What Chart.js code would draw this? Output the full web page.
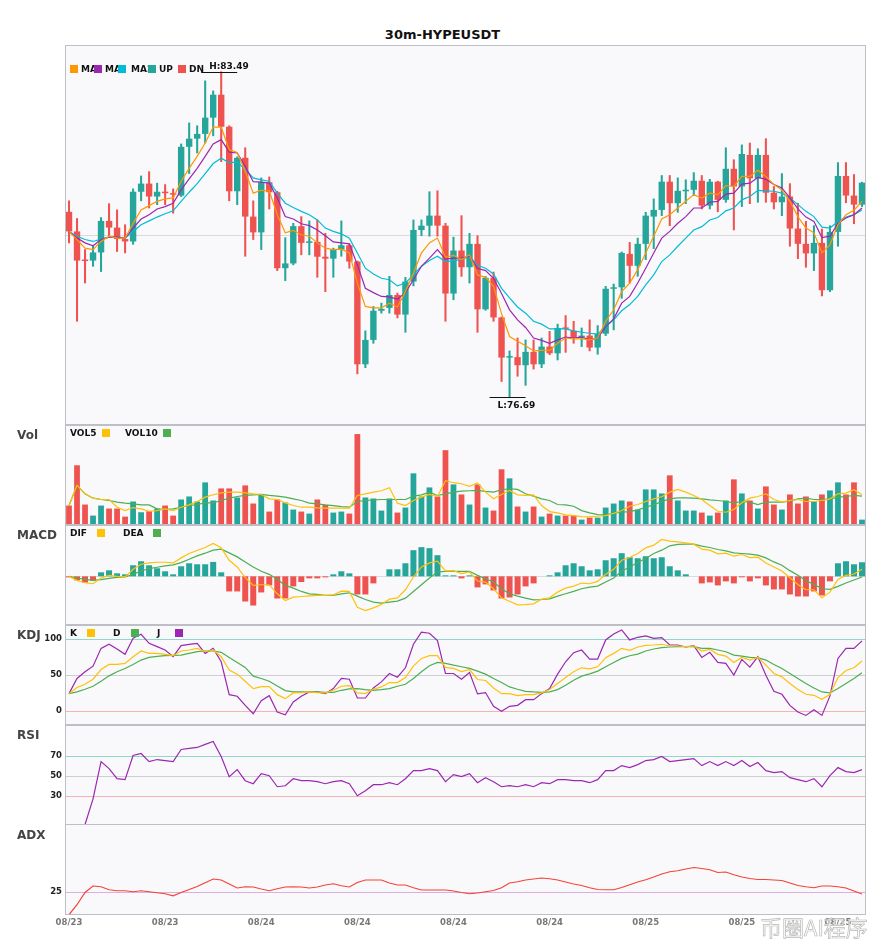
<!DOCTYPE html>
<html>
<head>
<meta charset="utf-8">
<title>30m-HYPEUSDT</title>
<script src="https://cdn.jsdelivr.net/npm/chart.js@4.4.1/dist/chart.umd.min.js"></script>
<style>
  body { margin: 0; background: #fff; font-family: "DejaVu Sans", sans-serif; }
  #page { position: relative; width: 885px; height: 950px; overflow: hidden; }
  canvas { position: absolute; left: 0; }
  .lbl { position: absolute; left: 17px; font-weight: bold; font-size: 12px; line-height: 14px; color: #444; }
  #title { position: absolute; top: 27px; left: 0; width: 885px; text-align: center;
           font-weight: bold; font-size: 13px; line-height: 16px; color: #111; }
  #wm { position: absolute; left: 760px; top: 910px; font-family: "Noto Sans CJK SC", sans-serif;
        font-size: 22px; color: rgba(255,255,255,0.7); -webkit-text-stroke: 0.7px #b8b8b8; }
</style>
</head>
<body>
<div id="page">
  <div id="title">30m-HYPEUSDT</div>
  <canvas id="cMain" width="885" height="380" style="top:45px"></canvas>
  <canvas id="cVol"  width="885" height="100" style="top:425px"></canvas>
  <canvas id="cMacd" width="885" height="100" style="top:525px"></canvas>
  <canvas id="cKdj"  width="885" height="100" style="top:625px"></canvas>
  <canvas id="cRsi"  width="885" height="100" style="top:725px"></canvas>
  <canvas id="cAdx"  width="885" height="111" style="top:824px"></canvas>
  <div class="lbl" style="top:428px">Vol</div>
  <div class="lbl" style="top:528px">MACD</div>
  <div class="lbl" style="top:628px">KDJ</div>
  <div class="lbl" style="top:728px">RSI</div>
  <div class="lbl" style="top:828px">ADX</div>
  <div id="wm">币圈AI程序</div>
</div>

<script>
/* =========================================
   DATA
========================================= */
const tickLabels = ["08/23", "08/23", "08/24", "08/24", "08/24", "08/24", "08/25", "08/25", "08/25"];
const TICK_EVERY = 12;

// 100 half-hour candles
const times = [];
for (let i = 0; i < 100; i++) times.push(String(i));

const opens = [
  80.56,80.15,79.54,79.54,79.71,80.37,80.23,79.99,79.94,80.98,
  81.15,80.88,80.97,80.94,80.90,81.92,82.09,82.19,82.53,83.01,
  82.34,80.99,81.69,80.46,80.13,81.18,80.97,79.38,79.48,80.26,
  79.91,79.93,79.62,79.58,79.77,79.86,79.52,77.37,77.88,78.49,
  78.55,78.82,78.41,79.10,80.18,80.27,80.48,80.27,78.85,79.75,
  79.40,79.89,78.52,79.18,78.35,77.51,77.52,77.35,77.63,77.37,
  77.74,77.60,78.13,78.07,77.93,77.97,77.72,78.01,78.95,78.98,
  79.68,79.43,79.89,80.46,80.60,81.19,80.74,80.99,81.02,81.21,
  80.69,81.19,80.81,81.46,81.09,81.75,81.26,81.75,80.96,80.76,
  80.88,80.21,79.89,79.69,79.91,78.92,80.14,81.31,80.90,80.71
];
const highs = [
  80.79,80.42,79.77,79.84,80.44,80.73,80.60,80.29,81.04,81.31,
  81.40,81.16,81.13,81.04,81.98,82.42,82.36,83.30,83.09,83.49,
  82.36,81.71,81.90,80.79,81.27,81.29,80.99,80.02,80.32,80.46,
  80.37,80.39,80.11,79.80,80.37,79.89,79.53,78.07,78.58,78.65,
  79.21,78.86,79.19,80.39,80.39,80.98,81.00,80.32,80.03,80.48,
  80.11,80.06,79.21,79.30,78.36,77.65,77.92,77.88,77.88,77.92,
  78.06,78.21,78.39,78.27,78.13,78.30,78.18,79.00,79.05,79.72,
  79.92,80.01,80.55,80.83,81.32,81.32,81.27,81.23,81.38,81.32,
  81.24,81.20,81.90,81.65,81.96,82.00,81.88,82.09,81.09,81.36,
  81.15,80.74,80.36,80.27,80.20,80.27,81.59,81.59,81.34,81.18
];
const lows = [
  79.91,78.27,79.07,79.42,79.31,80.05,79.73,79.70,79.88,80.79,
  80.64,80.71,80.71,80.53,80.88,81.36,81.79,82.00,82.15,81.61,
  80.79,80.71,79.63,79.98,79.77,80.62,79.33,79.12,79.45,79.66,
  79.66,79.19,78.89,79.19,79.63,79.38,77.17,77.30,77.81,78.44,
  78.44,78.34,78.04,79.01,80.06,80.05,80.05,78.27,78.72,79.21,
  79.07,78.04,78.50,78.27,77.01,76.69,77.12,76.93,77.27,77.30,
  77.57,77.46,77.62,77.81,77.74,77.65,77.58,77.97,78.09,78.75,
  79.07,79.21,79.56,79.79,80.48,80.27,80.55,80.73,80.90,80.62,
  80.62,80.56,80.76,80.18,80.67,80.73,80.76,80.76,80.62,80.48,
  79.84,79.58,79.40,79.33,78.80,78.89,79.84,80.75,80.31,80.67
];
const closes = [
  80.15,79.54,79.53,79.71,80.37,80.23,79.99,79.94,80.98,81.15,
  80.88,80.98,80.95,80.92,81.92,82.09,82.19,82.53,83.01,82.34,
  80.99,81.69,80.46,80.13,81.18,80.97,79.38,79.48,80.26,79.91,
  79.93,79.62,79.58,79.77,79.86,79.52,77.37,77.88,78.49,78.53,
  78.82,78.41,79.10,80.18,80.27,80.48,80.27,78.85,79.75,79.40,
  79.89,78.52,79.18,78.35,77.51,77.52,77.35,77.63,77.37,77.74,
  77.60,78.13,78.11,77.93,77.97,77.72,78.01,78.95,78.98,79.70,
  79.43,79.89,80.48,80.60,81.19,80.74,81.00,81.00,81.21,80.69,
  81.19,80.81,81.46,81.09,81.77,81.26,81.75,80.96,80.76,80.88,
  80.21,79.89,79.69,79.91,78.92,80.14,81.31,80.90,80.71,81.17
];
const ma5 = [
  80.15,79.98,79.80,79.77,79.94,80.05,80.01,80.01,80.32,80.60,
  80.69,80.78,80.83,80.85,81.20,81.47,81.72,82.00,82.33,82.33,
  81.86,81.80,81.41,80.95,81.01,81.00,80.50,80.12,80.17,80.08,
  80.05,79.91,79.80,79.77,79.78,79.70,79.07,78.58,78.55,78.55,
  78.65,78.57,78.89,79.28,79.70,79.91,80.01,79.61,79.65,79.56,
  79.66,79.24,79.19,79.00,78.43,77.95,77.85,77.76,77.65,77.66,
  77.66,77.81,77.92,77.90,77.90,77.88,77.92,78.27,78.51,78.89,
  79.07,79.35,79.70,80.05,80.41,80.50,80.64,80.78,80.92,80.85,
  80.95,80.92,81.11,81.09,81.30,81.30,81.43,81.30,81.13,81.02,
  80.78,80.46,80.22,80.12,79.70,79.87,80.29,80.50,80.59,80.78
];
const ma10 = [
  80.15,80.01,79.91,79.85,79.98,80.03,80.03,80.01,80.22,80.41,
  80.50,80.62,80.67,80.74,81.02,81.25,81.47,81.72,81.98,82.07,
  81.81,81.79,81.51,81.19,81.18,81.16,80.85,80.46,80.41,80.31,
  80.27,80.18,80.06,79.93,79.91,79.89,79.45,78.96,78.87,78.79,
  78.78,78.73,78.87,79.14,79.42,79.59,79.77,79.57,79.59,79.59,
  79.63,79.38,79.33,79.17,78.85,78.51,78.30,78.14,77.92,77.87,
  77.81,77.88,77.94,77.92,77.94,77.88,77.92,78.16,78.32,78.65,
  78.79,79.07,79.38,79.70,80.01,80.15,80.32,80.46,80.64,80.64,
  80.76,80.78,80.93,80.95,81.14,81.16,81.28,81.24,81.13,81.06,
  80.85,80.62,80.45,80.36,80.02,80.05,80.32,80.43,80.50,80.64
];
const ma20 = [
  80.15,80.05,79.98,79.94,79.99,80.03,80.03,80.01,80.15,80.29,
  80.37,80.45,80.52,80.58,80.78,80.97,81.15,81.36,81.57,81.68,
  81.59,81.60,81.45,81.27,81.23,81.20,80.95,80.74,80.65,80.57,
  80.50,80.39,80.22,80.15,80.10,80.01,79.70,79.38,79.26,79.17,
  79.14,79.01,79.07,79.24,79.42,79.54,79.63,79.52,79.54,79.56,
  79.63,79.44,79.38,79.26,78.96,78.76,78.57,78.44,78.27,78.21,
  78.11,78.11,78.11,78.07,78.04,78.02,78.00,78.16,78.30,78.49,
  78.62,78.79,79.03,79.24,79.52,79.66,79.84,80.01,80.18,80.25,
  80.39,80.44,80.58,80.64,80.81,80.88,81.01,81.00,80.99,80.95,
  80.85,80.71,80.57,80.46,80.24,80.22,80.36,80.45,80.50,80.60
];
const REF_PRICE = 80.08;

const volumes = [
  58,178,61,28,58,49,49,25,70,38,
  41,49,58,28,76,85,70,127,73,109,
  109,82,118,64,91,40,76,67,46,40,
  34,76,60,37,40,34,271,82,79,43,
  79,37,52,154,85,112,85,223,121,91,
  61,121,52,43,166,139,55,40,55,25,
  34,28,28,28,16,22,22,52,64,73,
  70,46,106,106,94,148,73,43,43,37,
  28,37,73,136,94,73,49,115,61,46,
  91,64,85,70,91,103,127,91,127,16
];
const vol5 = [
  58,118,93,80,76,76,53,43,52,48,
  41,43,48,43,53,60,70,83,90,96,
  98,98,96,93,91,78,76,66,58,53,
  53,51,50,50,50,50,88,93,98,102,
  111,65,58,73,83,91,85,132,126,123,
  115,125,98,78,91,103,90,88,90,58,
  40,36,30,28,25,24,26,28,35,43,
  56,61,70,78,84,98,106,98,88,76,
  58,41,38,46,66,80,85,93,76,68,
  73,76,70,70,73,78,93,95,105,90
];
const vol10 = [
  58,118,93,80,76,73,68,65,63,60,
  60,48,46,48,53,58,61,66,66,73,
  80,85,88,90,91,88,86,83,78,73,
  65,63,60,58,55,53,70,73,75,76,
  76,76,76,86,90,98,88,93,98,101,
  102,103,100,98,105,108,106,93,86,78,
  73,61,60,56,43,36,31,30,35,38,
  40,45,53,60,70,78,81,81,80,78,
  75,73,70,66,70,68,61,68,68,68,
  71,78,80,76,76,78,83,85,88,86
];

const macdHist = [
  -0.03,-0.12,-0.19,-0.12,0.12,0.18,0.09,0.06,0.33,0.45,
  0.33,0.24,0.15,0.06,0.30,0.39,0.36,0.36,0.43,0.12,
  -0.45,-0.45,-0.75,-0.87,-0.48,-0.27,-0.66,-0.66,-0.30,-0.17,
  -0.06,-0.06,-0.03,0.06,0.15,0.09,-0.54,-0.54,-0.21,0.00,
  0.21,0.21,0.39,0.78,0.87,0.84,0.63,0.03,0.03,-0.06,
  0.03,-0.33,-0.24,-0.42,-0.66,-0.63,-0.54,-0.30,-0.21,0.00,
  0.03,0.12,0.33,0.39,0.30,0.18,0.21,0.48,0.54,0.69,
  0.57,0.54,0.60,0.54,0.57,0.30,0.18,0.06,0.00,-0.21,
  -0.18,-0.27,-0.15,-0.21,-0.03,-0.15,-0.06,-0.27,-0.39,-0.39,
  -0.54,-0.60,-0.60,-0.45,-0.57,-0.15,0.39,0.45,0.36,0.42
];
const dif = [
  0.00,-0.12,-0.19,-0.22,-0.05,0.03,0.00,-0.02,0.21,0.36,
  0.40,0.42,0.42,0.40,0.55,0.68,0.77,0.86,0.98,0.85,
  0.48,0.28,-0.04,-0.27,-0.25,-0.25,-0.52,-0.72,-0.62,-0.60,
  -0.58,-0.57,-0.57,-0.55,-0.44,-0.45,-0.92,-1.02,-0.94,-0.84,
  -0.68,-0.64,-0.40,-0.02,0.28,0.40,0.45,0.16,0.17,0.08,
  0.13,-0.14,-0.17,-0.37,-0.64,-0.74,-0.85,-0.84,-0.82,-0.68,
  -0.64,-0.47,-0.35,-0.29,-0.20,-0.22,-0.15,0.06,0.21,0.48,
  0.56,0.68,0.85,0.93,1.10,1.05,1.03,1.00,0.96,0.81,
  0.78,0.67,0.69,0.60,0.65,0.56,0.57,0.40,0.28,0.16,
  -0.04,-0.24,-0.40,-0.40,-0.64,-0.47,-0.09,0.03,0.07,0.21
];
const dea = [
  0.00,-0.05,-0.09,-0.12,-0.10,-0.06,-0.03,-0.02,0.06,0.16,
  0.23,0.27,0.31,0.34,0.41,0.51,0.61,0.69,0.78,0.81,
  0.70,0.58,0.43,0.28,0.15,0.06,-0.09,-0.27,-0.35,-0.45,
  -0.52,-0.54,-0.57,-0.57,-0.52,-0.49,-0.59,-0.69,-0.77,-0.80,
  -0.77,-0.74,-0.65,-0.45,-0.25,-0.05,0.13,0.15,0.15,0.15,
  0.15,0.03,-0.07,-0.17,-0.37,-0.52,-0.59,-0.65,-0.70,-0.69,
  -0.67,-0.59,-0.52,-0.45,-0.37,-0.32,-0.29,-0.17,-0.05,0.15,
  0.28,0.41,0.53,0.68,0.78,0.91,0.95,0.96,0.96,0.90,
  0.86,0.80,0.76,0.70,0.68,0.66,0.63,0.55,0.43,0.33,
  0.17,0.03,-0.13,-0.24,-0.37,-0.39,-0.30,-0.20,-0.11,-0.02
];

const kLine = [
  23.9,32.4,37.1,44.1,57.7,64.8,64.8,66.2,75.6,83.6,
  80.3,80.3,78.9,77.0,83.6,85.0,87.3,82.6,85.0,75.6,
  56.8,51.2,41.3,31.0,33.8,33.8,22.5,16.9,24.9,25.4,
  26.3,25.4,24.9,28.6,34.3,35.2,24.9,23.9,30.0,33.3,
  39.4,39.4,46.5,62.4,73.2,77.0,77.0,60.6,59.2,54.9,
  57.7,43.7,42.3,31.9,23.9,23.9,21.1,22.5,22.5,24.9,
  29.6,38.0,46.5,54.5,60.1,58.7,61.5,74.2,80.3,87.3,
  84.5,89.2,91.5,92.0,93.0,90.6,90.6,89.7,90.6,83.6,
  85.9,78.9,76.5,67.6,74.6,70.9,74.6,63.8,52.1,47.4,
  38.0,29.6,23.0,21.6,16.0,23.0,46.5,56.3,60.1,69.5
];
const dLine = [
  23.9,26.3,30.0,34.3,41.3,48.8,54.5,59.2,64.8,70.9,
  74.6,76.1,77.0,77.5,77.9,80.3,82.6,83.6,83.6,81.7,
  74.6,67.6,60.6,48.4,45.1,41.3,34.7,28.2,26.3,26.3,
  26.3,26.3,25.8,25.8,28.6,30.5,31.0,29.6,28.6,29.6,
  31.0,34.3,37.1,45.1,54.5,62.9,67.6,66.2,63.8,61.5,
  59.2,55.4,51.2,45.1,39.4,33.3,30.0,27.2,26.3,25.8,
  26.3,29.6,35.7,42.7,48.4,51.6,55.4,61.5,67.6,73.2,
  77.0,79.3,83.6,86.4,88.3,89.2,89.7,89.7,89.7,87.3,
  87.3,85.0,82.6,77.9,76.5,74.6,74.2,70.9,64.8,59.2,
  52.1,45.1,38.0,31.9,26.3,24.9,31.0,38.0,45.1,53.1
];
const jLine = [
  23.9,45.1,54.5,62.4,87.3,93.0,86.4,78.9,101.4,107.0,
  94.4,89.7,85.0,75.6,91.1,93.0,94.4,80.3,87.3,68.5,
  22.5,20.2,7.5,-4.2,14.1,21.1,-1.9,-5.6,12.2,20.2,
  26.3,26.3,23.9,31.0,45.1,44.1,17.8,17.8,31.9,40.4,
  52.1,46.9,60.1,93.0,109.9,108.5,98.1,52.1,52.1,44.1,
  53.5,23.5,25.4,6.1,-0.9,6.1,7.5,15.5,15.5,23.9,
  31.0,51.2,68.5,81.2,85.0,72.3,72.3,99.1,107.5,113.1,
  99.1,102.8,104.7,101.4,102.3,92.0,92.0,89.2,91.1,74.6,
  81.7,67.6,66.2,49.8,71.8,61.0,75.6,49.8,27.2,23.0,
  7.5,-1.9,-6.6,1.4,-6.6,20.7,73.2,87.3,87.3,97.7
];

const rsi = [
  null,null,1.5,27,64,57,47,46,70,72,
  64,66,65,64,76,77,78,81,84,69,
  49,56,45,42,52,50,39,40,47,45,
  45,44,42,44,45,42,30,35,41,41,
  43,41,47,55,55,57,55,44,51,49,
  52,43,48,44,39,40,39,41,39,43,
  42,46,46,45,45,43,46,55,55,60,
  58,61,65,66,69,64,65,66,67,60,
  64,60,64,60,65,59,63,55,53,54,
  48,46,44,47,39,50,58,54,53,56
];
const adx = [
  15.8,19.8,24.7,27.3,27.0,25.8,25.4,25.4,25.0,25.4,
  25.0,24.6,24.2,23.4,24.7,25.9,27.1,28.6,30.1,29.7,
  28.1,26.5,27.0,26.9,26.1,25.4,26.2,26.9,27.0,26.9,
  26.5,26.9,27.7,28.2,27.4,26.9,28.7,29.7,29.7,29.7,
  28.5,27.7,27.7,26.6,25.7,25.7,25.7,25.7,25.3,24.7,
  24.2,24.5,25.0,25.5,26.6,28.5,29.0,29.7,30.1,30.5,
  30.2,29.7,28.9,28.1,27.5,26.6,25.9,25.8,25.8,26.7,
  27.8,28.9,29.8,30.9,32.1,33.0,33.4,34.1,34.7,34.3,
  33.8,32.7,32.9,31.8,30.9,30.3,29.9,29.9,29.7,29.5,
  28.5,27.5,27.0,26.6,27.3,27.3,27.0,26.5,25.3,24.1
];

/* =========================================
   COMMON STYLE
========================================= */
const UP = "#26a69a";
const DN = "#ef5350";
const FONT = "DejaVu Sans";
Chart.defaults.font.family = FONT;
Chart.defaults.animation = false;
Chart.defaults.events = [];
Chart.defaults.plugins.legend.display = false;
Chart.defaults.plugins.tooltip.enabled = false;

const candleColors = closes.map((c, i) => (c >= opens[i] ? UP : DN));
const histColors = macdHist.map(v => (v >= 0 ? UP : DN));

// panel background, reference lines, frame and small legend
function panelDeco(cfg) {
  return {
    id: "panelDeco",
    beforeDraw(chart) {
      const { ctx, chartArea: a } = chart;
      const y = chart.scales.y;
      ctx.save();
      ctx.fillStyle = "#f9f9fb";
      ctx.fillRect(a.left, a.top, a.right - a.left, a.bottom - a.top);
      (cfg.lines || []).forEach(l => {
        const py = Math.round(y.getPixelForValue(l.value)) + 0.5;
        ctx.strokeStyle = l.color;
        ctx.lineWidth = 1.2;
        ctx.beginPath();
        ctx.moveTo(a.left, py);
        ctx.lineTo(a.right, py);
        ctx.stroke();
      });
      ctx.restore();
    },
    afterDraw(chart) {
      const { ctx, chartArea: a } = chart;
      ctx.save();
      ctx.strokeStyle = "#bebec6";
      ctx.lineWidth = 1;
      ctx.strokeRect(a.left + 0.5, a.top + 0.5, a.right - a.left - 1, a.bottom - a.top - 1);

      ctx.font = "bold 9px '" + FONT + "'";
      ctx.textBaseline = "middle";
      const cy = a.top + cfg.legendY;
      (cfg.legend || []).forEach(it => {
        ctx.fillStyle = it.color;
        ctx.fillRect(a.left + it.bx, cy - 4, 8, 8);
        ctx.save();
        if (it.clip) {
          ctx.beginPath();
          ctx.rect(a.left + it.tx, cy - 8, it.clip, 16);
          ctx.clip();
        }
        ctx.fillStyle = "#111";
        ctx.fillText(it.text, a.left + it.tx, cy + 0.5);
        ctx.restore();
      });
      ctx.restore();
    }
  };
}

// H / L markers on the price panel
const highLowMarks = {
  id: "highLowMarks",
  afterDatasetsDraw(chart) {
    const { ctx } = chart;
    const x = chart.scales.x, y = chart.scales.y;
    const hi = highs.indexOf(Math.max(...highs));
    const lo = lows.indexOf(Math.min(...lows));
    ctx.save();
    ctx.strokeStyle = "#111";
    ctx.lineWidth = 1;
    ctx.fillStyle = "#111";
    ctx.font = "bold 9px '" + FONT + "'";

    let px = x.getPixelForValue(hi), py = Math.round(y.getPixelForValue(highs[hi])) + 0.5;
    ctx.beginPath(); ctx.moveTo(px - 20, py); ctx.lineTo(px + 16, py); ctx.stroke();
    ctx.textBaseline = "bottom";
    ctx.fillText("H:" + highs[hi].toFixed(2), px - 12, py - 1);

    px = x.getPixelForValue(lo); py = Math.round(y.getPixelForValue(lows[lo])) + 0.5;
    ctx.beginPath(); ctx.moveTo(px - 20, py); ctx.lineTo(px + 16, py); ctx.stroke();
    ctx.textBaseline = "top";
    ctx.fillText("L:" + lows[lo].toFixed(2), px - 12, py + 4);
    ctx.restore();
  }
};

function yAxis(min, max, ticks) {
  return {
    min: min,
    max: max,
    grid: { display: false, drawTicks: false },
    border: { display: false },
    afterFit(s) {
      s.width = 65;
      s.paddingTop = 0;
      s.paddingBottom = 0;
    },
    afterBuildTicks(s) { s.ticks = ticks.map(v => ({ value: v })); },
    ticks: {
      display: ticks.length > 0,
      padding: 3,
      color: "#222",
      font: { size: 8.5, weight: "bold" },
      callback: v => String(v)
    }
  };
}

function xAxis(show) {
  return {
    offset: true,
    display: show,
    grid: { display: false, drawTicks: false },
    border: { display: false },
    afterFit(s) {
      if (show) s.height = 20;
      s.paddingLeft = 0;
      s.paddingRight = 0;
    },
    ticks: {
      autoSkip: false,
      maxRotation: 0,
      minRotation: 0,
      padding: 3,
      color: "#777",
      font: { size: 8.5, weight: "bold" },
      callback: (v, i) => (i % TICK_EVERY === 0 ? tickLabels[i / TICK_EVERY] : "")
    }
  };
}

function baseOptions(yScale, showX) {
  return {
    responsive: false,
    layout: { padding: { left: 0, right: 19, top: 0, bottom: 0 }, autoPadding: false },
    scales: { x: xAxis(showX), y: yScale }
  };
}

function line(data, color, order) {
  return {
    type: "line", data: data, borderColor: color, borderWidth: 1.2,
    pointRadius: 0, fill: false, tension: 0, order: order || 0
  };
}

/* =========================================
   PRICE PANEL
========================================= */
new Chart(document.getElementById("cMain"), {
  type: "bar",
  data: {
    labels: times,
    datasets: [
      line(ma5, "#ff9800"),
      line(ma10, "#9c27b0"),
      line(ma20, "#00bcd4"),
      {
        data: opens.map((o, i) => [o, closes[i]]),
        backgroundColor: candleColors,
        grouped: false, barPercentage: 0.8, categoryPercentage: 1,
        minBarLength: 1.5, order: 1
      },
      {
        data: lows.map((l, i) => [l, highs[i]]),
        backgroundColor: candleColors,
        grouped: false, barThickness: 1.4, order: 2
      }
    ]
  },
  options: baseOptions(yAxis(76.1, 84.05, []), false),
  plugins: [
    panelDeco({
      lines: [{ value: REF_PRICE, color: "#dadadd" }],
      legendY: 24,
      legend: [
        { text: "MA5",  color: "#ff9800", bx: 5,   tx: 16,  clip: 13 },
        { text: "MA10", color: "#9c27b0", bx: 29,  tx: 40,  clip: 13 },
        { text: "MA20", color: "#00bcd4", bx: 53,  tx: 66,  clip: 17 },
        { text: "UP",   color: UP,        bx: 83,  tx: 94 },
        { text: "DN",   color: DN,        bx: 113, tx: 124 }
      ]
    }),
    highLowMarks
  ]
});

/* =========================================
   VOLUME
========================================= */
new Chart(document.getElementById("cVol"), {
  type: "bar",
  data: {
    labels: times,
    datasets: [
      line(vol5, "#ffc107"),
      line(vol10, "#4caf50"),
      { data: volumes, backgroundColor: candleColors, barPercentage: 0.72, categoryPercentage: 1, order: 1 }
    ]
  },
  options: baseOptions(yAxis(0, 298, []), false),
  plugins: [panelDeco({
    legendY: 8,
    legend: [
      { text: "VOL5",  color: "#ffc107", tx: 5,  bx: 37 },
      { text: "VOL10", color: "#4caf50", tx: 60, bx: 98 }
    ]
  })]
});

/* =========================================
   MACD
========================================= */
new Chart(document.getElementById("cMacd"), {
  type: "bar",
  data: {
    labels: times,
    datasets: [
      line(dif, "#ffc107"),
      line(dea, "#4caf50"),
      { data: macdHist, backgroundColor: histColors, barPercentage: 0.75, categoryPercentage: 1, order: 1 }
    ]
  },
  options: baseOptions(yAxis(-1.45, 1.53, []), false),
  plugins: [panelDeco({
    lines: [{ value: 0, color: "#dcdce0" }],
    legendY: 8,
    legend: [
      { text: "DIF", color: "#ffc107", tx: 5,  bx: 32 },
      { text: "DEA", color: "#4caf50", tx: 58, bx: 88 }
    ]
  })]
});

/* =========================================
   KDJ
========================================= */
new Chart(document.getElementById("cKdj"), {
  type: "line",
  data: {
    labels: times,
    datasets: [line(kLine, "#ffc107"), line(dLine, "#4caf50"), line(jLine, "#9c27b0")]
  },
  options: baseOptions(yAxis(-20, 120, [0, 50, 100]), false),
  plugins: [panelDeco({
    lines: [
      { value: 100, color: "#8fd9ca" },
      { value: 50,  color: "#cfcfd3" },
      { value: 0,   color: "#f5b3b3" }
    ],
    legendY: 8,
    legend: [
      { text: "K", color: "#ffc107", tx: 5,  bx: 22 },
      { text: "D", color: "#4caf50", tx: 48, bx: 66 },
      { text: "J", color: "#9c27b0", tx: 92, bx: 110 }
    ]
  })]
});

/* =========================================
   RSI
========================================= */
new Chart(document.getElementById("cRsi"), {
  type: "line",
  data: { labels: times, datasets: [line(rsi, "#9c27b0")] },
  options: baseOptions(yAxis(1, 100.3, [30, 50, 70]), false),
  plugins: [panelDeco({
    lines: [
      { value: 70, color: "#8fd9ca" },
      { value: 50, color: "#cfcfd3" },
      { value: 30, color: "#f5b3b3" }
    ]
  })]
});

/* =========================================
   ADX
========================================= */
new Chart(document.getElementById("cAdx"), {
  type: "line",
  data: { labels: times, datasets: [line(adx, "#f44336")] },
  options: baseOptions(yAxis(15.7, 52.1, [25]), true),
  plugins: [panelDeco({ lines: [{ value: 25, color: "#dcaee2" }] })]
});
</script>
</body>
</html>
